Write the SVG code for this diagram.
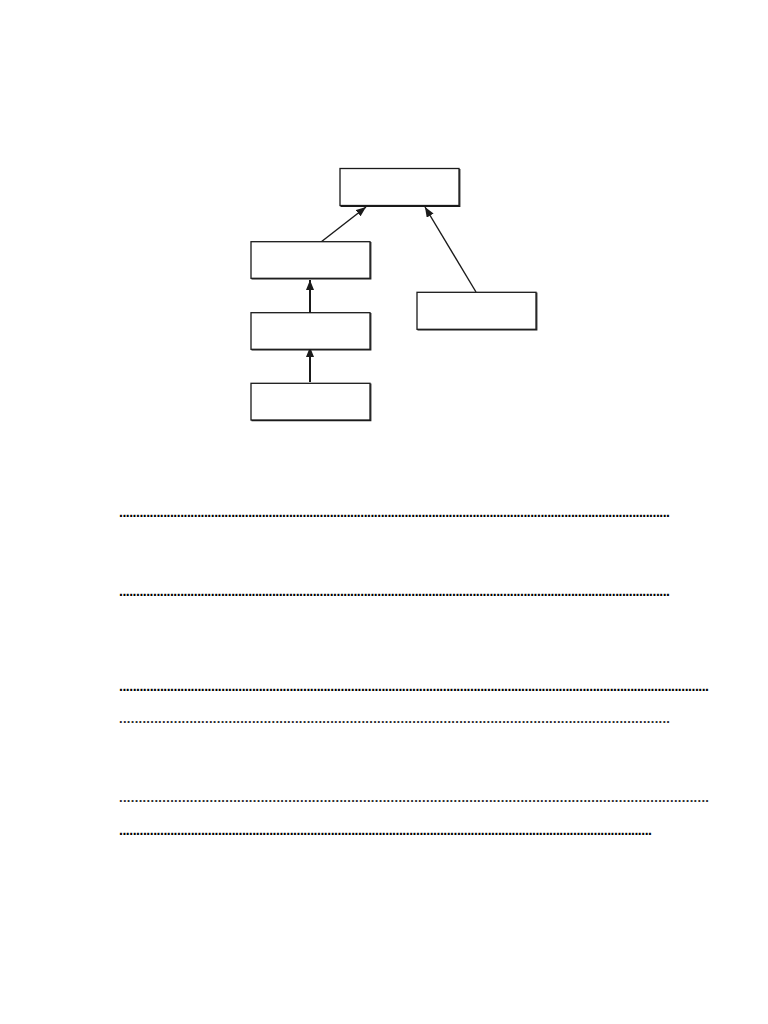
<svg xmlns="http://www.w3.org/2000/svg" width="768" height="1024" viewBox="0 0 768 1024">
<style>
.box{fill:#fff;stroke:#1a1a1a;stroke-width:1.3}
.sh{fill:none;stroke:#1a1a1a;stroke-width:1.2}
.con{stroke:#1a1a1a;fill:none}
.dots{font-family:"Liberation Sans",Arial,sans-serif;font-size:14px;font-weight:bold;fill:#000}
.l{font-size:13px;fill:#2a2a2a}
</style>
<defs>
<marker id="ah" viewBox="0 0 10 8" refX="10" refY="4" markerWidth="10" markerHeight="8" markerUnits="userSpaceOnUse" orient="auto">
<path d="M0,0 L10,4 L0,8 Z" fill="#1a1a1a"/>
</marker>
</defs>
<rect width="768" height="1024" fill="#fff"/>
<g id="connectors">
<line class="con" x1="321" y1="242" x2="366" y2="207" stroke-width="1.4" marker-end="url(#ah)"/>
<line class="con" x1="476" y1="292" x2="425" y2="207" stroke-width="1.4" marker-end="url(#ah)"/>
<line class="con" x1="310" y1="313" x2="310" y2="280" stroke-width="2" marker-end="url(#ah)"/>
<line class="con" x1="310" y1="382" x2="310" y2="347" stroke-width="2" marker-end="url(#ah)"/>
</g>
<g id="node-top">
<rect class="box" x="340" y="168.5" width="119" height="37"/>
<path class="sh" d="M459.8,169 V206.3 H340.5"/>
</g>
<g id="node-left1">
<rect class="box" x="251" y="241.7" width="119" height="36.6"/>
<path class="sh" d="M370.8,242 V279 H251.5"/>
</g>
<g id="node-left2">
<rect class="box" x="251" y="312.7" width="119" height="36.6"/>
<path class="sh" d="M370.8,313 V350 H251.5"/>
</g>
<g id="node-left3">
<rect class="box" x="251" y="383.3" width="119" height="36.7"/>
<path class="sh" d="M370.8,383.5 V420.7 H251.5"/>
</g>
<g id="node-right">
<rect class="box" x="417" y="292.3" width="119" height="37"/>
<path class="sh" d="M536.8,292.5 V330 H417.5"/>
</g>
<g id="dotted-lines">
<text class="dots" x="119" y="516.5" textLength="551" lengthAdjust="spacing">..................................................................................................................................................................</text>
<text class="dots" x="119" y="595.5" textLength="551" lengthAdjust="spacing">..................................................................................................................................................................</text>
<text class="dots" x="119" y="690.5" textLength="590" lengthAdjust="spacing">.............................................................................................................................................................................</text>
<text class="dots l" x="119" y="722.5" textLength="551" lengthAdjust="spacing">.............................................................................................................................................</text>
<text class="dots l" x="119" y="801.5" textLength="590" lengthAdjust="spacing">......................................................................................................................................................</text>
<text class="dots" x="119" y="834.5" textLength="533" lengthAdjust="spacing">............................................................................................................................................................</text>
</g>
</svg>
